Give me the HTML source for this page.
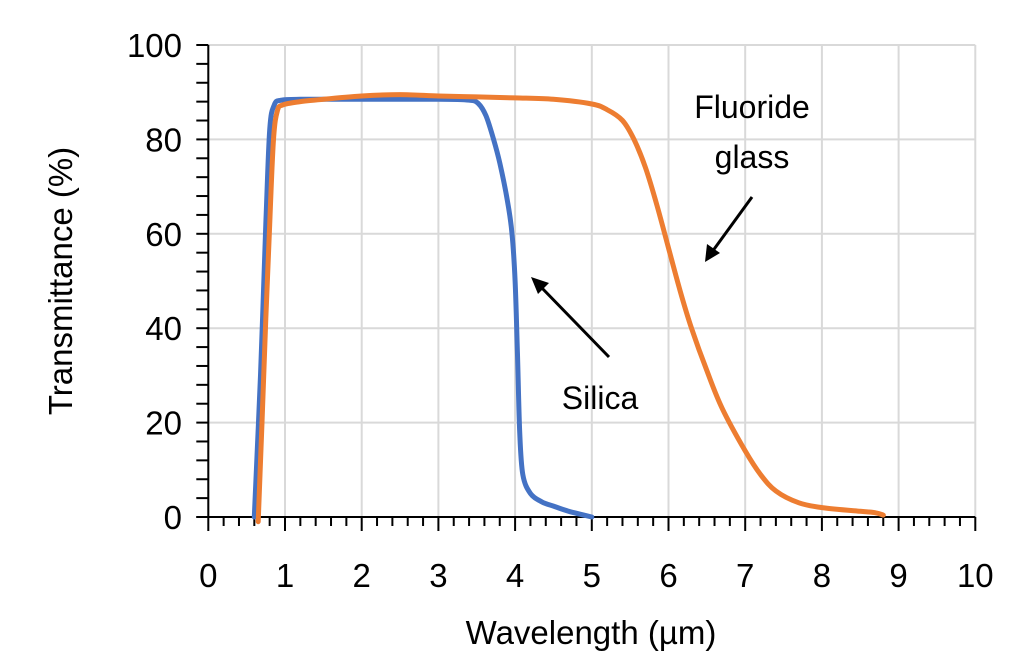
<!DOCTYPE html>
<html><head><meta charset="utf-8"><style>
body{margin:0;background:#fff;}
svg{display:block;font-family:"Liberation Sans",sans-serif;}
</style></head><body>
<svg id="chart" width="1024" height="666" viewBox="0 0 1024 666" xmlns="http://www.w3.org/2000/svg">
<g id="grid"></g>
<g id="axes"></g>
<g id="series"></g>
<text x="591" y="644" font-size="33" text-anchor="middle">Wavelength (µm)</text>
<text transform="translate(72,281) rotate(-90)" font-size="33" text-anchor="middle">Transmittance (%)</text>
<text x="752" y="118" font-size="32" text-anchor="middle">Fluoride</text>
<text x="752" y="168" font-size="32" text-anchor="middle">glass</text>
<text x="600" y="409" font-size="32" text-anchor="middle">Silica</text>
<g><line x1="752" y1="197" x2="712" y2="252" stroke="#000" stroke-width="3"/><polygon points="705,262 707,244 720,253" fill="#000"/></g>
<g><line x1="609" y1="357" x2="540" y2="286" stroke="#000" stroke-width="3"/><polygon points="531,277 549,283 538,294" fill="#000"/></g>
</svg>
<script>
const xTicks=[0,1,2,3,4,5,6,7,8,9,10];
const yTicks=[0,20,40,60,80,100];
const silicaX=[0.6,0.68,0.75,0.8,0.86,0.95,1.2,1.5,2,3,3.4,3.52,3.62,3.72,3.8,3.9,3.96,4.0,4.03,4.06,4.1,4.2,4.35,4.5,4.7,5.0];
const silicaY=[0,30,62,82,87.3,88.3,88.5,88.5,88.5,88.5,88.3,87.6,85,80,75,67,60,50,35,18,9,5,3.2,2.3,1.2,0];
const fluorideX=[0.65,0.7,0.75,0.8,0.85,0.9,0.97,1.2,1.5,2,2.5,3,3.5,4,4.5,5,5.2,5.4,5.55,5.7,5.85,6,6.15,6.3,6.5,6.7,7,7.2,7.4,7.7,8,8.5,8.7,8.8];
const fluorideY=[-1,20,42,62,80,86,87.3,88,88.5,89.2,89.5,89.2,89,88.8,88.5,87.5,86.3,84,80,74,66,57,48,40,31,23,14,9,5.5,3,2,1.2,0.9,0.4];
const X0=208.3,XS=76.7,Y0=517,YS=4.72;
const sx=v=>X0+v*XS, sy=v=>Y0-v*YS;
const NS="http://www.w3.org/2000/svg";
function mk(tag,attrs,parent){const e=document.createElementNS(NS,tag);for(const k in attrs)e.setAttribute(k,attrs[k]);parent.appendChild(e);return e;}
const grid=document.getElementById('grid'),axes=document.getElementById('axes'),series=document.getElementById('series');
xTicks.forEach(t=>{
 const g=mk('line',{x1:sx(t),x2:sx(t),y1:sy(0),y2:sy(100),stroke:'#d9d9d9','stroke-width':2},grid);
 
 
 const l=mk('text',{x:sx(t),y:587,'font-size':33,'text-anchor':'middle'},axes);l.textContent=t;
 
 
});
yTicks.forEach(t=>{
 const g=mk('line',{x1:sx(0),x2:sx(10),y1:sy(t),y2:sy(t),stroke:'#d9d9d9','stroke-width':2},grid);
 
 
 const l=mk('text',{x:182,y:sy(t)+12,'font-size':33,'text-anchor':'end'},axes);l.textContent=t;
 
 
});
for(let i=0;i<=50;i++){const v=i*0.2;const maj=i%5==0;
 mk('line',{x1:sx(v),x2:sx(v),y1:sy(0),y2:sy(0)+(maj?14:9),stroke:'#000','stroke-width':2},axes);}
for(let i=0;i<=25;i++){const v=i*4;
 mk('line',{x1:sx(0)-12,x2:sx(0),y1:sy(v),y2:sy(v),stroke:'#000','stroke-width':2},axes);}
mk('line',{x1:sx(0),x2:sx(0),y1:sy(0),y2:sy(100),stroke:'#000','stroke-width':2},axes);
mk('line',{x1:sx(0)-12,x2:sx(10),y1:sy(0),y2:sy(0),stroke:'#000','stroke-width':2},axes);
function path(xs,ys,color,name){
 const P=xs.map((x,i)=>[sx(x),sy(ys[i])]);
 let d='M'+P[0][0].toFixed(1)+','+P[0][1].toFixed(1);
 for(let i=0;i<P.length-1;i++){
  const p0=P[i-1]||P[i],p1=P[i],p2=P[i+1],p3=P[i+2]||p2;
  const c1=[p1[0]+(p2[0]-p0[0])/6,p1[1]+(p2[1]-p0[1])/6];
  const c2=[p2[0]-(p3[0]-p1[0])/6,p2[1]-(p3[1]-p1[1])/6];
  d+=' C'+c1.map(v=>v.toFixed(1)).join(',')+' '+c2.map(v=>v.toFixed(1)).join(',')+' '+p2.map(v=>v.toFixed(1)).join(',');
 }
 const p=mk('path',{d:d,fill:'none',stroke:color,'stroke-width':5,'stroke-linejoin':'round','stroke-linecap':'round'},series);
 
 
}
path(silicaX,silicaY,'#4472c4','silica-line');
path(fluorideX,fluorideY,'#ed7d31','fluoride-glass-line');
</script>
</body></html>
